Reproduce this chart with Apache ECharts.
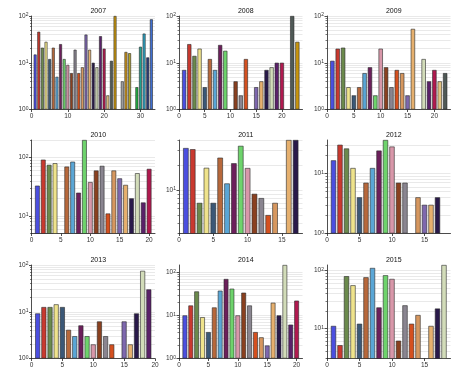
<!DOCTYPE html>
<html><head><meta charset="utf-8">
<script src="https://cdn.jsdelivr.net/npm/echarts@6/dist/echarts.min.js"></script>
<style>html,body{margin:0;padding:0;background:#fff}#c{width:474px;height:379px}</style>
</head><body><div id="c"></div>
<script>
// ---- data ----
const years = ['2007','2008','2009','2010','2011','2012','2013','2014','2015'];
const v2007 = [15,46,21,28,12,21,5,25,12,9,6,19,6,8,40,19,10,8,37,20,2,11,100,null,4,17,16,null,3,22,42,13,85];
const v2008 = [7,25,14,20,3,12,7,24,18,null,4,2,12,null,3,4,7,8,10,10,null,100,28];
const v2009 = [11,20,21,3,2,3,6,8,2,20,8,3,7,6,2,53,null,12,4,7,4,6];
const v2010 = [33,92,75,80,null,70,85,25,200,38,60,72,11,60,44,34,20,54,17,64];
const v2011 = [32,31,7,18.5,7,24.5,12,21,34,18.4,9,8,5,7,null,40,40];
const v2012 = [16.5,30,26,12.3,4,7,12.3,24,36,28,7,7,null,4,3,3,4];
const v2013 = [9.2,12.6,12.6,14.4,12.6,4.1,3,5.1,3,2,6.2,3,2,null,6.2,2,9.2,75,30];
const v2014 = [10,17,36,9.1,4.1,15.3,37.5,70,41.7,10,33.7,17,4.1,3.1,2,19.7,10,148,6.1,22];
const v2015 = [11,5.1,80,55.7,12,76.6,111,23,83,71.7,6.1,25,12,17,null,11,22,125];
const values = [v2007,v2008,v2009,v2010,v2011,v2012,v2013,v2014,v2015];
// axis ranges
const yMin = [1,1,1,5,3,1,1,1,3];
const yMax = [100,100,100,200,40,36,100,148,125];
const xMax = [34,24,23,21,18,19,20,21,19];
const xStep = [10,5,5,5,5,5,5,5,5];

// ---- styles ----
const palette = ['#4b4fe0','#c9392f','#6b8a4c','#efe38c','#3b5877','#b7683b','#5aa6d6','#6c1f5b','#6ed36c','#d897a9',
 '#8a401f','#8a8590','#d4501f','#d6975f','#7e68ae','#e6b06e','#29194a','#d2dcb9','#5a2169','#b0194f',
 '#e2c27f','#4f5956','#c8950d','#888888','#a0a0a0','#c8911c','#b2a325','#777777','#22b043','#1fa08e','#2fa2c1','#283978','#3f6fd1'];
const lefts = [31.5,179,327];
const tops = [16,140,265];
const GW = 123.5, GH = 93.5;
const FONT = 'Liberation Sans';

function decadeVals(lo, hi, mode){
  const out=[];
  for(let k=-1;k<=4;k++){
    for(let m=1;m<=9;m++){
      const v = Math.round(m*Math.pow(10,k)*1000)/1000;
      if(v>=lo-1e-9 && v<=hi+1e-9){ if(mode===1 && m!==1) continue; if(mode===2 && m===1) continue; out.push(v);} 
    }
  }
  return out;
}

const grid=[], xAxis=[], yAxis=[], series=[], title=[];
const gridLine = {show:true, lineStyle:{color:'#e3e3e3', width:0.8, type:'solid'}};
years.forEach((yr,i)=>{
  const r=Math.floor(i/3), c=i%3;
  grid.push({left:lefts[c], top:tops[r], width:GW, height:GH, containLabel:false});
  const xt=[]; for(let t=0;t<=xMax[i];t+=xStep[i]) xt.push(t);
  xAxis.push({type:'value', gridIndex:i, min:0, max:xMax[i],
    axisLine:{show:true,lineStyle:{color:'#222',width:0.8}},
    axisTick:{show:true,length:2.5,lineStyle:{color:'#222',width:0.8},customValues:xt},
    axisLabel:{customValues:xt,fontSize:6.5,color:'#333',fontFamily:FONT,margin:3},
    splitLine:{show:false}});
  const maj=decadeVals(yMin[i],yMax[i],1), mnr=decadeVals(yMin[i],yMax[i],2);
  yAxis.push({type:'log', logBase:10, gridIndex:i, min:yMin[i], max:yMax[i],
    axisLine:{show:true,lineStyle:{color:'#222',width:0.8}},
    axisTick:{show:true,length:2.5,lineStyle:{color:'#222',width:0.8},customValues:maj},
    axisLabel:{customValues:maj,fontSize:6.5,color:'#333',fontFamily:FONT,margin:3,
      formatter:v=>'10{s|'+Math.round(Math.log10(v))+'}',
      rich:{s:{fontSize:5,verticalAlign:'top',color:'#333',fontFamily:FONT}}},
    splitLine:gridLine, z:0});
  yAxis.push({type:'log', logBase:10, gridIndex:i, min:yMin[i], max:yMax[i], position:'left',
    axisLine:{show:false},
    axisTick:{show:true,length:1.5,lineStyle:{color:'#222',width:0.6},customValues:mnr},
    axisLabel:{show:false}, splitLine:gridLine, z:0});
  const pxPerUnit = GW / xMax[i];
  const d=[];
  values[i].forEach((v,j)=>{ if(v!=null) d.push({value:[j+1,v], itemStyle:{color:palette[j]}}); });
  series.push({type:'bar', xAxisIndex:i, yAxisIndex:2*i, data:d, barWidth:pxPerUnit*0.8, z:2, clip:true,
    itemStyle:{borderColor:'#2a2a2a',borderWidth:0.6}, animation:false});
  title.push({text:yr, left:lefts[c]+GW/2, top:tops[r]-13, textAlign:'center',
    textStyle:{fontSize:7,fontWeight:'normal',color:'#111',fontFamily:FONT}});
});

const chart = echarts.init(document.getElementById('c'), null, {renderer:'canvas'});
chart.setOption({animation:false, backgroundColor:'#fff', title, grid, xAxis, yAxis, series});
</script></body></html>
